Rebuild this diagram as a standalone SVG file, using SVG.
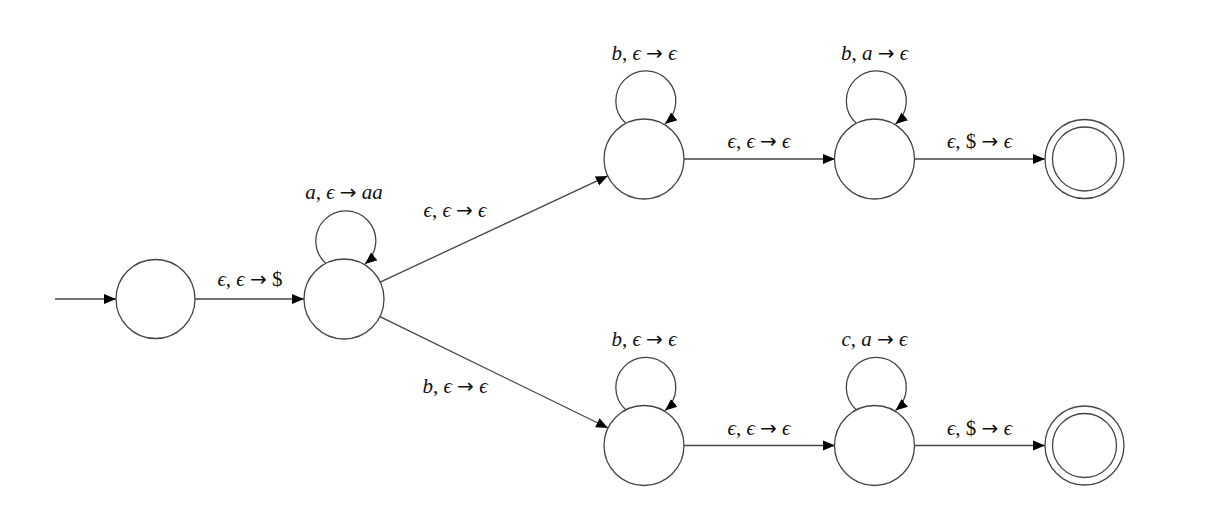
<svg xmlns="http://www.w3.org/2000/svg" width="1208" height="509" viewBox="0 0 1208 509">
<style>
.st{fill:#fff;stroke:#444;stroke-width:1.3}
.ed{fill:none;stroke:#444;stroke-width:1.3;marker-end:url(#ah)}
.lb{font-family:"Liberation Serif","DejaVu Serif",serif;font-size:21px;fill:#111;text-anchor:middle;font-style:italic}
.u{font-style:normal}
.ar{font-style:normal;font-family:"DejaVu Sans",sans-serif;font-size:20px}
</style>
<defs>
<marker id="ah" markerUnits="userSpaceOnUse" markerWidth="13" markerHeight="13" viewBox="0 0 13 13" refX="12" refY="6.5" orient="auto">
<path d="M0,1.5 L12,6.5 L0,11.5 Z" fill="#000"/>
</marker>
</defs>
<rect width="1208" height="509" fill="#fff"/>
<g id="connectors">
<path class="ed" d="M55,299 H116"/>
<path class="ed" d="M195,299 H304"/>
<path class="ed" d="M325.5,263 A30,30 0 1 1 365,264"/>
<path class="ed" d="M380.2,282.1 L607.8,175.9"/>
<path class="ed" d="M379.9,316.6 L608.1,428"/>
<path class="ed" d="M625.5,123 A30,30 0 1 1 665,124"/>
<path class="ed" d="M684,159 H835"/>
<path class="ed" d="M856,123 A30,30 0 1 1 895.5,124"/>
<path class="ed" d="M914.5,159 H1045"/>
<path class="ed" d="M625.5,409.5 A30,30 0 1 1 665,410.5"/>
<path class="ed" d="M684,445.5 H835"/>
<path class="ed" d="M856,409.5 A30,30 0 1 1 895.5,410.5"/>
<path class="ed" d="M914.5,445.5 H1045"/>
</g>
<g id="labels">
<text class="lb" x="250" y="286">ϵ<tspan class="u">,</tspan> ϵ <tspan class="ar">→</tspan> <tspan class="u">$</tspan></text>
<text class="lb" x="344" y="199">a<tspan class="u">,</tspan> ϵ <tspan class="ar">→</tspan> aa</text>
<text class="lb" x="455" y="217">ϵ<tspan class="u">,</tspan> ϵ <tspan class="ar">→</tspan> ϵ</text>
<text class="lb" x="455" y="393">b<tspan class="u">,</tspan> ϵ <tspan class="ar">→</tspan> ϵ</text>
<text class="lb" x="644" y="60">b<tspan class="u">,</tspan> ϵ <tspan class="ar">→</tspan> ϵ</text>
<text class="lb" x="759" y="148">ϵ<tspan class="u">,</tspan> ϵ <tspan class="ar">→</tspan> ϵ</text>
<text class="lb" x="874.5" y="60">b<tspan class="u">,</tspan> a <tspan class="ar">→</tspan> ϵ</text>
<text class="lb" x="979.5" y="148">ϵ<tspan class="u">,</tspan> <tspan class="u">$</tspan> <tspan class="ar">→</tspan> ϵ</text>
<text class="lb" x="644" y="346">b<tspan class="u">,</tspan> ϵ <tspan class="ar">→</tspan> ϵ</text>
<text class="lb" x="759" y="435">ϵ<tspan class="u">,</tspan> ϵ <tspan class="ar">→</tspan> ϵ</text>
<text class="lb" x="874.5" y="346">c<tspan class="u">,</tspan> a <tspan class="ar">→</tspan> ϵ</text>
<text class="lb" x="979.5" y="435">ϵ<tspan class="u">,</tspan> <tspan class="u">$</tspan> <tspan class="ar">→</tspan> ϵ</text>
</g>
<g id="q0"><circle class="st" cx="155.5" cy="299" r="39.5"/></g>
<g id="q1"><circle class="st" cx="344" cy="299" r="40"/></g>
<g id="q2"><circle class="st" cx="644" cy="159" r="40"/></g>
<g id="q3"><circle class="st" cx="874.5" cy="159" r="40"/></g>
<g id="q4"><circle class="st" cx="1084.5" cy="159" r="39.5"/><circle class="st" cx="1084.5" cy="159" r="32"/></g>
<g id="q5"><circle class="st" cx="644" cy="445.5" r="40"/></g>
<g id="q6"><circle class="st" cx="874.5" cy="445.5" r="40"/></g>
<g id="q7"><circle class="st" cx="1084.5" cy="445.5" r="39.5"/><circle class="st" cx="1084.5" cy="445.5" r="32"/></g>
</svg>
